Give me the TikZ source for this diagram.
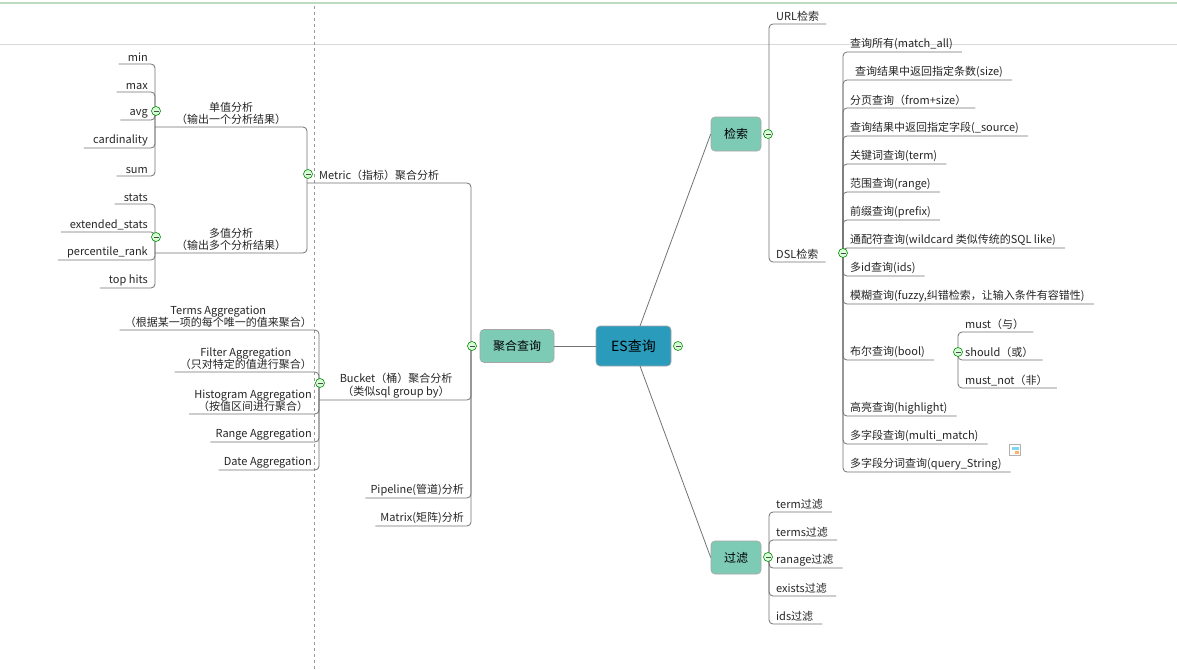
\documentclass[tikz,border=0pt]{standalone}
\usepackage{fontspec}
\setmainfont{Noto Sans CJK SC}
\definecolor{mint}{HTML}{7ECBB5}
\definecolor{esblue}{HTML}{2A9BBB}
\begin{document}
\begin{tikzpicture}[x=1pt,y=-1pt,
  lbl/.style={font=\fontsize{11}{12.5}\selectfont,inner sep=1pt,text=black!85},
  conn/.style={draw=black!55,line width=0.8pt,rounded corners=4pt},
  topic/.style={draw=black!35,fill=mint,rounded corners=4pt,font=\fontsize{12}{14}\selectfont,minimum height=33pt,line width=0.6pt},
  collapse/.style={circle,draw=green!55!black,fill=green!15,line width=0.6pt,minimum size=9pt,inner sep=0pt,path picture={\draw[black!70,line width=0.6pt] ([xshift=-2.5pt]path picture bounding box.center)--([xshift=2.5pt]path picture bounding box.center);}}]
\useasboundingbox (0,0) rectangle (1177,669);
\fill[white] (0,0) rectangle (1177,669);
\draw[green!30!gray!40,line width=2pt] (0,3)--(1177,3);
\draw[black!15,line width=0.6pt] (0,44)--(1177,44);
\draw[black!40,dashed,line width=0.6pt] (314,6)--(314,669);
\newcommand\leafR[6]{\node[lbl,anchor=south west,align=left] (#1) at (#2+6,#4-1) {#6};
  \draw[conn] (#2,#3) |- ([xshift=#5]#1.south east |- 0,#4);}
\newcommand\leafL[6]{\node[lbl,anchor=south east,align=center] (#1) at (#2-6,#4-1) {#6};
  \draw[conn] (#2,#3) |- ([xshift=-#5]#1.south west |- 0,#4);}
% #1 name #2 spine x #3 attach y #4 y #5 left x #6 text pos x #7 anchor #8 text
\newcommand\branchL[8]{\node[lbl,anchor=#7,align=center] (#1) at (#6,#4-1) {#8};
  \coordinate (#1-l) at (#5,#4);
  \draw[conn] (#2,#3) |- (#1-l);}
% central
\node[topic,fill=esblue,minimum width=75pt,minimum height=40pt,font=\fontsize{14}{16}\selectfont] (es) at (633.5,346) {ES查询};
\node[topic,minimum width=74pt] (agg) at (517,346) {聚合查询};
\node[topic,minimum width=50pt,minimum height=34pt] (ss) at (736,134) {检索};
\node[topic,minimum width=50pt] (flt) at (736,557.5) {过滤};
\draw[conn] (agg.east)--(es.west);
\draw[conn] (640,326)--(ss.west);
\draw[conn] (640,366)--(flt.west);
% right: search
\leafR{url}{769}{134}{24}{6}{URL检索}
\leafR{dsl}{769}{134}{262}{6}{DSL检索}
\leafR{d1}{843}{253}{52}{8}{查询所有(match\_all)}
\leafR{d2}{843}{253}{80}{8}{\ \ 查询结果中返回指定条数(size)}
\leafR{d3}{843}{253}{108}{8}{分页查询（from+size）}
\leafR{d4}{843}{253}{136}{8}{查询结果中返回指定字段(\_source)}
\leafR{d5}{843}{253}{164}{8}{关键词查询(term)}
\leafR{d6}{843}{253}{192}{8}{范围查询(range)}
\leafR{d7}{843}{253}{220}{8}{前缀查询(prefix)}
\leafR{d8}{843}{253}{248}{8}{通配符查询(wildcard 类似传统的SQL like)}
\leafR{d9}{843}{253}{276}{8}{多id查询(ids)}
\leafR{d10}{843}{253}{304}{8}{模糊查询(fuzzy,纠错检索，让输入条件有容错性)}
\leafR{d11}{843}{253}{360}{8}{布尔查询(bool)}
\leafR{d12}{843}{253}{416}{8}{高亮查询(highlight)}
\leafR{d13}{843}{253}{444}{8}{多字段查询(multi\_match)}
\leafR{d14}{843}{253}{472}{8}{多字段分词查询(query\_String)}
\leafR{b1}{958}{352}{332}{8}{must（与）}
\leafR{b2}{958}{352}{360}{8}{should（或）}
\leafR{b3}{958}{352}{388}{8}{must\_not（非）}
\node[draw=black!30,fill=white,minimum size=11pt,inner sep=0pt,
  path picture={\fill[cyan!50] (path picture bounding box.north west)++(2pt,-2pt) rectangle ++(7pt,-3pt);
  \fill[orange!60] (path picture bounding box.south east)++(-2pt,2pt) rectangle ++(-4pt,3pt);}] (icon) at (1015,450) {};
% filters
\leafR{f1}{769}{557}{512}{8}{term过滤}
\leafR{f2}{769}{557}{540}{8}{terms过滤}
\leafR{f3}{769}{557}{568}{8}{ranage过滤}
\leafR{f4}{769}{557}{596}{8}{exists过滤}
\leafR{f5}{769}{557}{624}{8}{ids过滤}
% left: aggregation
\branchL{met}{471}{346}{183}{307}{318}{south west}{Metric（指标）聚合分析}
\branchL{buc}{471}{346}{400}{319}{396}{south}{Bucket（桶）聚合分析\\（类似sql group by）}
\leafL{pip}{471}{346}{498}{4}{Pipeline(管道)分析}
\leafL{mat}{471}{346}{526}{4}{Matrix(矩阵)分析}
\branchL{sv}{307}{174}{127}{155}{231}{south}{单值分析\\（输出一个分析结果）}
\branchL{mv}{307}{174}{253}{155}{231}{south}{多值分析\\（输出多个分析结果）}
\leafL{s1}{155}{111}{64}{8}{min}
\leafL{s2}{155}{111}{92}{8}{max}
\leafL{s3}{155}{111}{120}{8}{avg}
\leafL{s4}{155}{111}{148}{8}{cardinality}
\leafL{s5}{155}{111}{176}{8}{sum}
\leafL{m1}{155}{237}{204}{8}{stats}
\leafL{m2}{155}{237}{232}{8}{extended\_stats}
\leafL{m3}{155}{237}{260}{8}{percentile\_rank}
\leafL{m4}{155}{237}{288}{8}{top hits}
\leafL{k1}{319}{383}{330}{4}{Terms Aggregation\\（根据某一项的每个唯一的值来聚合）}
\leafL{k2}{319}{383}{372}{4}{Filter Aggregation\\（只对特定的值进行聚合）}
\leafL{k3}{319}{383}{414}{4}{Histogram Aggregation\\（按值区间进行聚合）}
\leafL{k4}{319}{383}{442}{4}{Range Aggregation}
\leafL{k5}{319}{383}{470}{4}{Date Aggregation}
% collapse markers
\node[collapse] (c0) at (678,346) {};
\node[collapse] (c1) at (472,346) {};
\node[collapse] (c2) at (768,134) {};
\node[collapse] (c3) at (768,557) {};
\node[collapse] (c4) at (843,253) {};
\node[collapse] (c5) at (958,352) {};
\node[collapse] (c6) at (308,174) {};
\node[collapse] (c7) at (320,383) {};
\node[collapse] (c8) at (156,111) {};
\node[collapse] (c9) at (156,237) {};
\end{tikzpicture}
\end{document}
